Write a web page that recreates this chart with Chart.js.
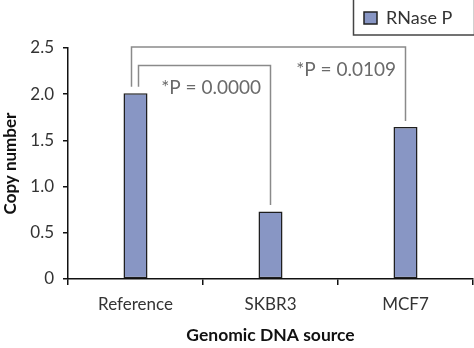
<!DOCTYPE html>
<html lang="en">
<head>
    <meta charset="UTF-8">
    <script src="https://cdn.jsdelivr.net/npm/chart.js"></script>
    <title>Copy number</title>
    <style>
        html, body { margin: 0; padding: 0; background: #fff; }
        #wrap { width: 474px; height: 348px; }
    </style>
</head>
<body>
    <div id="wrap"><canvas id="chartCopy"></canvas></div>

<script>
    // dados
    const categorias = ['Reference', 'SKBR3', 'MCF7'];
    const copias = [2.01, 0.73, 1.645];
    const yTicks = [0, 0.5, 1.0, 1.5, 2.0, 2.5];
    const serieNome = 'RNase P';

    // colchetes de significancia: categoria inicial, final, altura, pe esquerdo, pe direito
    const colchetes = [
        { de: 0, ate: 2, topo: 2.51, pe1: 2.08, pe2: 1.71, dx: -4, texto: '*P = 0.0109', tx: 1.56, ty: 2.26 },
        { de: 0, ate: 1, topo: 2.31, pe1: 2.08, pe2: 0.80, dx: 3, texto: '*P = 0.0000', tx: 0.56, ty: 2.07 }
    ];

    const fonte = 'Lato, "DejaVu Sans", sans-serif';
    const corBarra = 'rgb(136, 150, 196)';

    // desenha colchetes e legenda com borda
    const extras = {
        id: 'extras',
        afterDatasetsDraw(chart) {
            const c = chart.ctx;
            const x = chart.scales.x, y = chart.scales.y;
            c.save();
            c.strokeStyle = '#8a8a8a';
            c.lineWidth = 1.5;
            colchetes.forEach(b => {
                const x1 = x.getPixelForValue(b.de) + b.dx;
                const x2 = x.getPixelForValue(b.ate);
                c.beginPath();
                c.moveTo(x1, y.getPixelForValue(b.pe1));
                c.lineTo(x1, y.getPixelForValue(b.topo));
                c.lineTo(x2, y.getPixelForValue(b.topo));
                c.lineTo(x2, y.getPixelForValue(b.pe2));
                c.stroke();
                c.fillStyle = '#6a6a6a';
                c.font = '19px ' + fonte;
                c.textAlign = 'center';
                c.textBaseline = 'middle';
                c.fillText(b.texto, x.getPixelForValue(b.tx), y.getPixelForValue(b.ty));
            });

            // legenda
            c.strokeStyle = '#444';
            c.lineWidth = 1.5;
            c.strokeRect(353.5, -2, 121, 37);
            c.fillStyle = corBarra;
            c.fillRect(364, 12, 13, 12);
            c.strokeStyle = '#222';
            c.strokeRect(364, 12, 13, 12);
            c.fillStyle = '#333';
            c.font = '18px ' + fonte;
            c.textAlign = 'left';
            c.textBaseline = 'middle';
            c.fillText(serieNome, 386, 18);
            c.restore();
        }
    };

    const ctx = document.getElementById('chartCopy').getContext('2d');
    const chartCopy = new Chart(ctx, {
        type: 'bar',
        data: {
            labels: categorias,
            datasets: [{
                label: serieNome,
                data: copias,
                backgroundColor: corBarra,
                borderColor: '#1e1e1e',
                borderWidth: 1.5,
                borderSkipped: false,
                categoryPercentage: 1,
                barPercentage: 0.178
            }]
        },
        options: {
            responsive: true,
            maintainAspectRatio: false,
            animation: false,
            layout: { padding: { top: 48, right: 1, left: 0, bottom: 0 } },
            plugins: {
                legend: { display: false },
                tooltip: { enabled: false }
            },
            scales: {
                x: {
                    grid: { offset: true, drawOnChartArea: false, color: '#111', lineWidth: 1.5, tickLength: 6 },
                    border: { color: '#111', width: 1.5 },
                    ticks: { color: '#333', padding: 9, font: { family: fonte, size: 17 } },
                    title: { display: true, text: 'Genomic DNA source', color: '#111', font: { family: fonte, size: 17.5, weight: 'bold' }, padding: { top: 0, bottom: 2 } },
                    afterFit: s => { s.height = 69; }
                },
                y: {
                    min: 0,
                    max: 2.5,
                    afterBuildTicks: s => { s.ticks = yTicks.map(v => ({ value: v })); },
                    grid: { drawOnChartArea: false, color: '#111', lineWidth: 1.5, tickLength: 5 },
                    border: { color: '#111', width: 1.5 },
                    ticks: {
                        color: '#333', padding: 9, font: { family: fonte, size: 17 },
                        callback: v => v === 0 ? '0' : v.toFixed(1)
                    },
                    title: { display: true, text: 'Copy number', color: '#111', font: { family: fonte, size: 17, weight: 'bold' }, padding: { top: 0, bottom: 0 } },
                    afterFit: s => { s.width = 68; }
                }
            }
        },
        plugins: [extras]
    });
</script>
</body>
</html>
